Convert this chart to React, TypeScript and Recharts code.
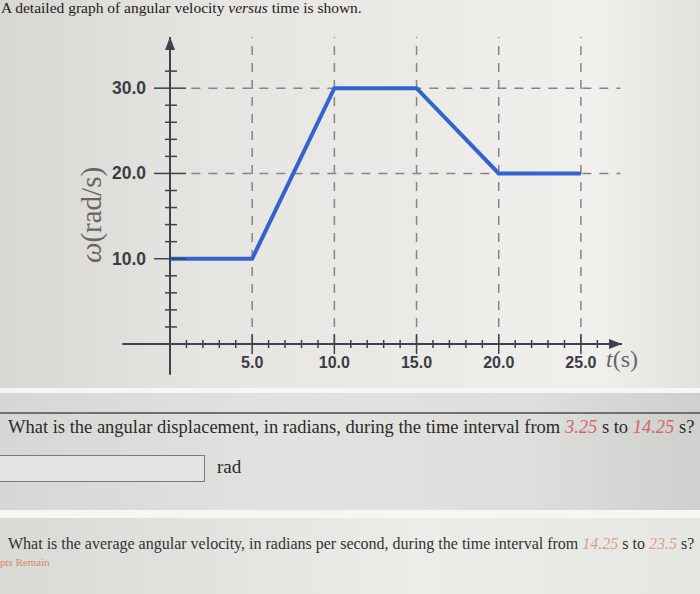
import React from 'react';
import { LineChart, Line, XAxis, YAxis, ReferenceLine, ReferenceDot } from 'recharts';

// angular velocity vs time
const times = [0, 5, 10, 15, 20, 25];
const omegas = [10, 10, 30, 30, 20, 20];
const xTicks = [1, 2, 3, 4, 5, 6, 7, 8, 9, 10, 11, 12, 13, 14, 15, 16, 17, 18, 19, 20, 21, 22, 23, 24, 25, 26];
const yTicks = [2, 4, 6, 8, 10, 12, 14, 16, 18, 20, 22, 24, 26, 28, 30, 32];
const xMajor = [5, 10, 15, 20, 25];
const yMajor = [10, 20, 30];
const yDashed = [20, 30];

const data = times.map((t, i) => ({ t, w: omegas[i] }));

const AXIS = '#3d4150';
const GRID = '#848486';
const BLUE = '#3463cf';
const LABEL_FONT = '"Liberation Sans", Arial, sans-serif';
const SERIF = '"Liberation Serif", "Times New Roman", serif';

const XTick = ({ x, y, payload }: any) => {
  const major = xMajor.includes(payload.value);
  return (
    <g>
      <line x1={x} x2={x} y1={y - (major ? 10 : 4)} y2={y + (major ? 10 : 4)} stroke={AXIS} strokeWidth={1.5} />
      {major && (
        <text x={x} y={y + 24} textAnchor="middle" fontFamily={LABEL_FONT} fontWeight="bold" fontSize={16} fill="#3a3d47">
          {payload.value.toFixed(1)}
        </text>
      )}
    </g>
  );
};

const YTick = ({ x, y, payload }: any) => {
  const major = yMajor.includes(payload.value);
  return (
    <g>
      <line x1={x - (major ? 16 : 5)} x2={x + (major ? 16 : 7)} y1={y} y2={y} stroke={AXIS} strokeWidth={1.5} />
      {major && (
        <text x={x - 24} y={y + 6} textAnchor="end" fontFamily={LABEL_FONT} fontWeight="bold" fontSize={17.5} fill="#3a3d47">
          {payload.value.toFixed(1)}
        </text>
      )}
    </g>
  );
};

const UpArrow = ({ cx, cy }: any) => (
  <path d={`M${cx},${cy} L${cx - 5},${cy + 13} L${cx + 5},${cy + 13} Z`} fill={AXIS} />
);

const RightArrow = ({ cx, cy }: any) => (
  <path d={`M${cx},${cy} L${cx - 13},${cy - 5} L${cx - 13},${cy + 5} Z`} fill={AXIS} />
);

export default function App() {
  return (
    <div style={{ position: 'absolute', left: 0, top: 0, width: 700, height: 594, overflow: 'hidden', background: '#f6f6f4' }}>
      {/* chart panel */}
      <div
        style={{
          position: 'absolute',
          left: 0,
          top: 0,
          width: 700,
          height: 388,
          background: 'linear-gradient(90deg, #d8d7d3 0%, #e6e5e1 30%, #ebeae6 60%, #f1f0ed 85%, #e2e1dd 100%)',
        }}
      >
        <div style={{ position: 'absolute', left: 1, top: 0, fontFamily: SERIF, fontSize: 15.5, lineHeight: '16px', color: '#222', whiteSpace: 'nowrap' }}>
          A detailed graph of angular velocity <i>versus</i> time is shown.
        </div>
        <div
          style={{
            position: 'absolute',
            left: 91,
            top: 215,
            transform: 'translate(-50%, -50%) rotate(-90deg)',
            fontFamily: SERIF,
            fontSize: 29,
            color: '#666',
            whiteSpace: 'nowrap',
          }}
        >
          <i>ω</i>(rad/s)
        </div>
        <div style={{ position: 'absolute', left: 606, top: 346, fontFamily: SERIF, fontSize: 24, color: '#666', whiteSpace: 'nowrap' }}>
          <i>t</i>(s)
        </div>
        <div style={{ position: 'absolute', left: 0, top: 0 }}>
          <LineChart width={700} height={388} data={data} margin={{ top: 37, right: 78, bottom: 43, left: 169 }}>
            <XAxis
              dataKey="t"
              type="number"
              domain={[0, 27.5]}
              ticks={xTicks}
              interval={0}
              height={1}
              tickSize={0}
              tickMargin={0}
              tickLine={false}
              axisLine={{ stroke: AXIS, strokeWidth: 2 }}
              tick={<XTick />}
              allowDataOverflow
            />
            <YAxis
              dataKey="w"
              type="number"
              domain={[0, 36]}
              ticks={yTicks}
              interval={0}
              width={1}
              tickSize={0}
              tickMargin={0}
              tickLine={false}
              axisLine={{ stroke: AXIS, strokeWidth: 2 }}
              tick={<YTick />}
              allowDataOverflow
            />
            {xMajor.map((t) => (
              <ReferenceLine key={`vx-${t}`} x={t} stroke={GRID} strokeWidth={1.5} strokeDasharray="9 8" />
            ))}
            {yDashed.map((w) => (
              <ReferenceLine
                key={`hy-${w}`}
                segment={[{ x: 1.3, y: w }, { x: 27.4, y: w }]}
                stroke={GRID}
                strokeWidth={1.5}
                strokeDasharray="9 8"
              />
            ))}
            <ReferenceLine segment={[{ x: -2.9, y: 0 }, { x: 0, y: 0 }]} stroke={AXIS} strokeWidth={2} ifOverflow="visible" />
            <ReferenceLine segment={[{ x: 0, y: -3.6 }, { x: 0, y: 0 }]} stroke={AXIS} strokeWidth={2} ifOverflow="visible" />
            <ReferenceDot x={0} y={36} r={0} shape={<UpArrow />} ifOverflow="visible" />
            <ReferenceDot x={27.5} y={0} r={0} shape={<RightArrow />} ifOverflow="visible" />
            <Line
              type="linear"
              dataKey="w"
              stroke={BLUE}
              strokeWidth={4}
              dot={false}
              activeDot={false}
              isAnimationActive={false}
            />
          </LineChart>
        </div>
      </div>

      {/* first question panel */}
      <div
        style={{
          position: 'absolute',
          left: 0,
          top: 393,
          width: 700,
          height: 117,
          background: 'linear-gradient(90deg, #d6d6d4 0%, #e2e2e0 40%, #dededc 75%, #cfcfcd 100%)',
        }}
      >
        <div style={{ position: 'absolute', left: 0, top: 19, width: 700, height: 2, background: '#6f6f70' }} />
        <div style={{ position: 'absolute', left: 8, top: 24, fontFamily: SERIF, fontSize: 18.5, color: '#2a2a2a', whiteSpace: 'nowrap' }}>
          What is the angular displacement, in radians, during the time interval from{' '}
          <i style={{ color: '#d06868' }}>3.25</i> s to <i style={{ color: '#d06868' }}>14.25</i> s?
        </div>
        <div
          style={{
            position: 'absolute',
            left: -2,
            top: 62,
            width: 205,
            height: 25,
            border: '1.5px solid #7a7a7a',
            background: '#e4e4e2',
          }}
        />
        <div style={{ position: 'absolute', left: 217, top: 63, fontFamily: SERIF, fontSize: 19, color: '#2a2a2a' }}>rad</div>
      </div>

      {/* second question panel */}
      <div
        style={{
          position: 'absolute',
          left: 0,
          top: 518,
          width: 700,
          height: 76,
          background: 'linear-gradient(90deg, #d9d9d5 0%, #e4e4e0 35%, #ecece8 60%, #e6e6e2 100%)',
        }}
      >
        <div style={{ position: 'absolute', left: 8, top: 17, fontFamily: SERIF, fontSize: 16, color: '#333', whiteSpace: 'nowrap' }}>
          What is the average angular velocity, in radians per second, during the time interval from{' '}
          <i style={{ color: '#d9a08a' }}>14.25</i> s to <i style={{ color: '#d9a08a' }}>23.5</i> s?
        </div>
        <div style={{ position: 'absolute', left: 0, top: 38, fontFamily: SERIF, fontSize: 11, color: '#d98a64', whiteSpace: 'nowrap' }}>
          pts Remain
        </div>
      </div>
    </div>
  );
}
